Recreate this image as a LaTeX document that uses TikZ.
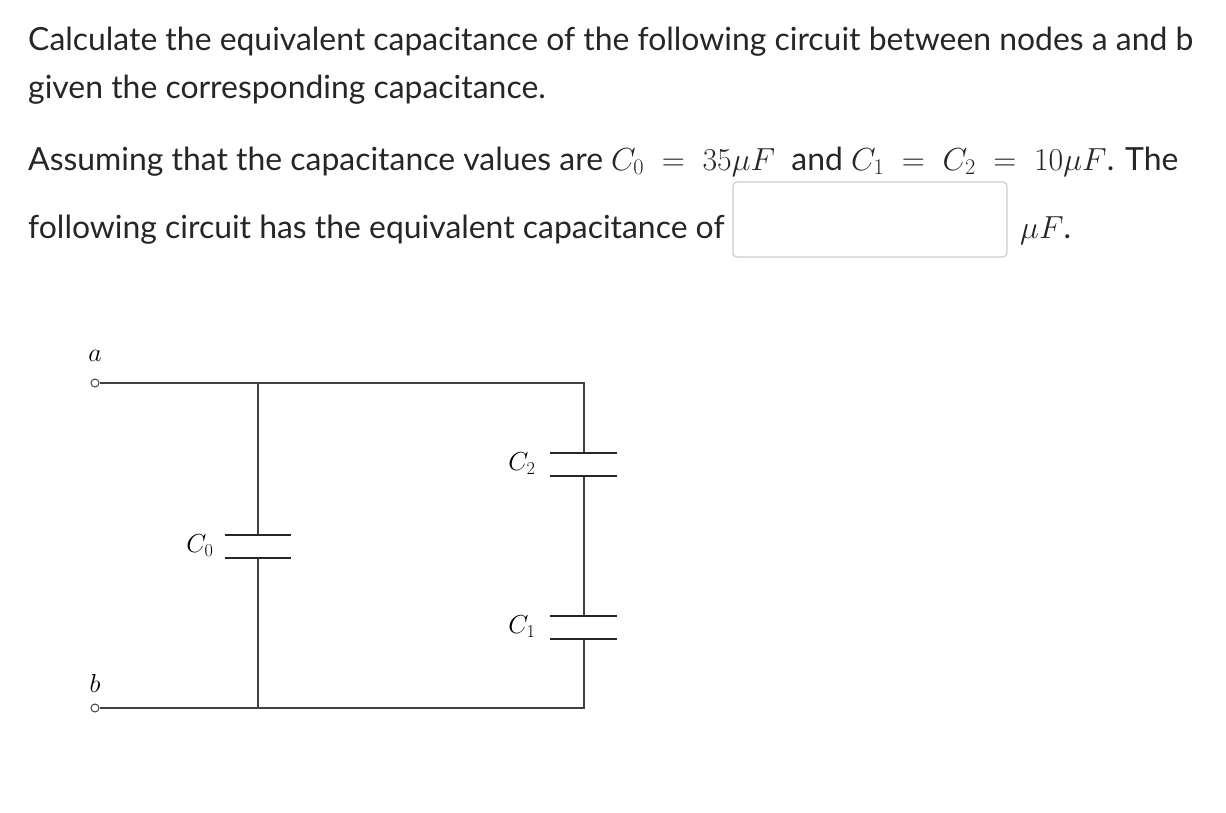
\documentclass[tikz,border=0pt]{standalone}
\usepackage{fix-cm}
\usepackage{fontspec}
\setmainfont{Lato}
\begin{document}
\begin{tikzpicture}[x=1pt,y=-1pt,
  txt/.style={anchor=base west,inner sep=0pt,font=\fontsize{31.9}{36}\selectfont,text=black!85},
  wire/.style={line width=1.2pt,draw=black!75},
  plate/.style={line width=2.6pt,draw=black!85},
  term/.style={circle,draw=black!75,line width=1pt,fill=white,inner sep=0pt,minimum size=8pt},
  lab/.style={inner sep=0pt,font=\fontsize{26}{30}\selectfont}]
\useasboundingbox (0,0) rectangle (1226,812);
\node[txt] (l1) at (28,50) {Calculate the equivalent capacitance of the following circuit between nodes a and b};
\node[txt] (l2) at (28,98) {given the corresponding capacitance.};
\node[txt] (l3) at (28,170) {Assuming that the capacitance values are $C_0\;=\;35\mu F$\ \ and $C_1\;=\;C_2\;=\;10\mu F$. The};
\node[txt] (l4) at (28,238) {following circuit has the equivalent capacitance of};
\draw[rounded corners=4pt,draw=black!20,line width=1.2pt] (733,182) rectangle (1007,257);
\node[txt] (u) at (1020,238) {$\mu F$.};
% circuit
\node[term] (a) at (95,383) {};
\node[term] (b) at (95,708) {};
\node[lab] (la) at (95,356) {$a$};
\node[lab] (lb) at (95,683) {$b$};
\coordinate (t0) at (258,383); \coordinate (b0) at (258,708);
\coordinate (t1) at (584,383); \coordinate (b1) at (584,708);
\draw[wire] (a) -- (t1) -- (584,453);
\draw[wire] (584,476) -- (584,616);
\draw[wire] (584,639) -- (b1) -- (b);
\draw[wire] (t0) -- (258,535);
\draw[wire] (258,558) -- (b0);
\draw[plate] (225,535) -- (291,535) (225,558) -- (291,558);
\draw[plate] (550,453) -- (617,453) (550,476) -- (617,476);
\draw[plate] (550,616) -- (617,616) (550,639) -- (617,639);
\node[lab] (c0) at (200,546) {$C_0$};
\node[lab] (c2) at (522,464) {$C_2$};
\node[lab] (c1) at (522,627) {$C_1$};
\end{tikzpicture}
\end{document}
